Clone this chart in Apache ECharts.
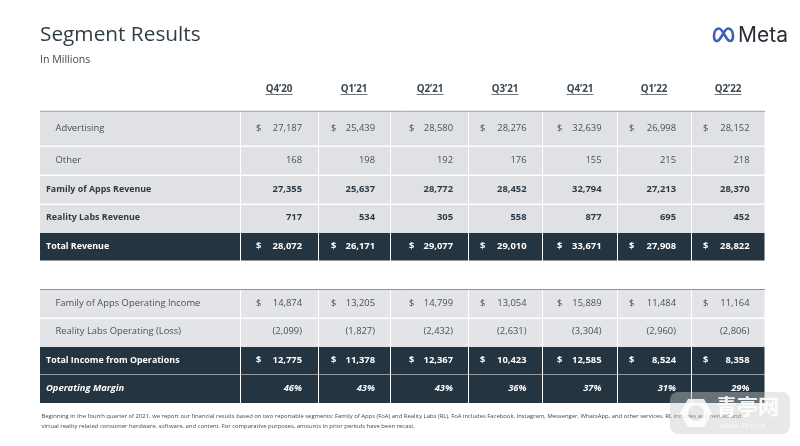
<!DOCTYPE html>
<html>
<head>
<meta charset="utf-8">
<style>
  html, body { margin: 0; padding: 0; background: #fff; }
  #chart { width: 800px; height: 446px; }
</style>
<script src="https://cdn.jsdelivr.net/npm/echarts@6/dist/echarts.min.js"></script>
</head>
<body>
<div id="chart"></div>
<script>
// table content
const quarters = ['Q4’20', 'Q1’21', 'Q2’21', 'Q3’21', 'Q4’21', 'Q1’22', 'Q2’22'];
const advertising = [27187, 25439, 28580, 28276, 32639, 26998, 28152];
const other = [168, 198, 192, 176, 155, 215, 218];
const foaRevenue = [27355, 25637, 28772, 28452, 32794, 27213, 28370];
const rlRevenue = [717, 534, 305, 558, 877, 695, 452];
const totalRevenue = [28072, 26171, 29077, 29010, 33671, 27908, 28822];
const foaIncome = [14874, 13205, 14799, 13054, 15889, 11484, 11164];
const rlLoss = [-2099, -1827, -2432, -2631, -3304, -2960, -2806];
const totalIncome = [12775, 11378, 12367, 10423, 12585, 8524, 8358];
const opMargin = [46, 43, 43, 36, 37, 31, 29];

const rowLabels = [
  'Advertising', 'Other', 'Family of Apps Revenue', 'Reality Labs Revenue', 'Total Revenue',
  'Family of Apps Operating Income', 'Reality Labs Operating (Loss)',
  'Total Income from Operations', 'Operating Margin'
];
const rowValues = [advertising, other, foaRevenue, rlRevenue, totalRevenue, foaIncome, rlLoss, totalIncome, opMargin];

// layout, in page pixels
const colEdges = [40, 240.5, 318.5, 390.5, 468.5, 542.5, 617.5, 691.5, 765];
const numRight = [302, 375, 453, 526.5, 601.5, 676, 749.5];
const dollarLeft = [256, 331, 409, 480, 557, 629, 703];
const headerX = [279, 354, 430, 505, 580, 654, 728];
const rowTop = [112, 147, 176, 205, 233, 290, 319, 347, 375];
const rowBottom = [145.5, 174.5, 203.5, 233, 260.5, 317.5, 347, 374.5, 403];
const textY = [128.5, 160.5, 189, 217.5, 246, 303, 331.5, 360, 388.5];

// 0 light row, 1 bold light row, 2 dark row, 3 dark italic row
const rowKinds = [0, 0, 1, 1, 2, 0, 0, 2, 3];
const rowFills = ['#dfe1e5', '#dfe1e5', '#dfe1e5', '#dfe1e5', '#243441', '#e3e4e7', '#e3e4e7', '#243441', '#243441'];
const hasDollar = [true, false, false, false, true, true, false, true, false];

const FONT = '"Open Sans", sans-serif';

function fmt(row, v) {
  if (row === 8) return v + '%';
  const s = Math.abs(v).toLocaleString('en-US');
  return v < 0 ? '(' + s + ')' : s;
}

function cellFont(kind, size) {
  if (kind === 3) return 'italic bold ' + size + 'px ' + FONT;
  if (kind === 0) return size + 'px ' + FONT;
  return 'bold ' + size + 'px ' + FONT;
}

// one item per cell: [row, column], column 0 is the label column
const cells = [];
rowLabels.forEach((_, r) => {
  for (let c = 0; c <= quarters.length; c++) cells.push([r, c]);
});

function cellText(text, x, y, color, font, align) {
  return {
    type: 'text',
    style: { text: text, x: x, y: y, fill: color, font: font, textAlign: align, textVerticalAlign: 'middle' }
  };
}

function renderCell(params, api) {
  const r = api.value(0);
  const c = api.value(1);
  const kind = rowKinds[r];
  const color = kind >= 2 ? '#ffffff' : (kind === 1 ? '#2d3b47' : '#46525c');
  const font = cellFont(kind, 9.4);
  // bold labels in the first column run a bit narrower than the numbers
  const labelFont = (kind === 1 || kind === 2) ? cellFont(kind, 8.9) : font;
  const tl = api.coord([colEdges[c] + (c > 0 ? 0.5 : 0), rowTop[r]]);
  const br = api.coord([colEdges[c + 1] - 0.5, rowBottom[r]]);
  const cy = api.coord([0, textY[r]])[1];
  const children = [{
    type: 'rect',
    shape: { x: tl[0], y: tl[1], width: br[0] - tl[0], height: br[1] - tl[1] },
    style: { fill: rowFills[r] }
  }];
  if (c === 0) {
    children.push(cellText(rowLabels[r], api.coord([kind === 0 ? 55.5 : 46, 0])[0], cy, color, labelFont, 'left'));
  } else {
    children.push(cellText(fmt(r, rowValues[r][c - 1]), api.coord([numRight[c - 1], 0])[0], cy, color, font, 'right'));
    if (hasDollar[r]) {
      children.push(cellText('$', api.coord([dollarLeft[c - 1], 0])[0], cy, color, font, 'left'));
    }
  }
  return { type: 'group', children: children };
}

function renderHeader(params, api) {
  const p = api.coord([headerX[api.value(0)], 89]);
  return {
    type: 'group',
    children: [
      cellText(quarters[api.value(0)], p[0], p[1], '#3a4853', 'bold 9.8px ' + FONT, 'center'),
      {
        type: 'line',
        shape: { x1: p[0] - 13.5, y1: p[1] + 5.5, x2: p[0] + 13.5, y2: p[1] + 5.5 },
        style: { stroke: '#4a5660', lineWidth: 0.8 }
      }
    ]
  };
}

// logo loop and watermark hexagon need real paths, graphic component has no path type
function renderDecor() {
  return {
    type: 'group',
    children: [
      {
        type: 'path',
        shape: {
          pathData: 'M0 7.5C0 2.5 2.5 0 5 0C9 0 12 12.5 16 12.5C18 12.5 19 10.5 19 7.5C19 2.5 16.5 0 14 0C10 0 7 12.5 3 12.5C1 12.5 0 10.5 0 7.5Z',
          x: 714, y: 28.5, width: 19, height: 12.5, layout: 'cover'
        },
        style: { fill: 'none', stroke: '#3f5fb8', lineWidth: 2.6 }
      },
      {
        type: 'rect',
        shape: { x: 670, y: 392, width: 120, height: 42, r: 8 },
        style: { fill: 'rgba(200,200,200,0.42)' }
      },
      {
        type: 'path',
        shape: {
          pathData: 'M0 14L8 0L24 0L32 14L24 28L8 28Z M8 14A8 8 0 1 0 24 14A8 8 0 1 0 8 14Z',
          x: 680, y: 399, width: 32, height: 28, layout: 'cover'
        },
        style: { fill: 'rgba(255,255,255,0.85)' }
      }
    ]
  };
}

const chart = echarts.init(document.getElementById('chart'), null, { renderer: 'canvas' });

chart.setOption({
  backgroundColor: '#ffffff',
  animation: false,
  title: [
    {
      text: 'Segment Results',
      left: 40,
      top: 25,
      padding: 0,
      textStyle: { fontFamily: FONT, fontWeight: 400, fontSize: 20.8, color: '#2f3d47' }
    },
    {
      text: 'In Millions',
      left: 40,
      top: 54,
      padding: 0,
      textStyle: { fontFamily: FONT, fontWeight: 400, fontSize: 10.6, color: '#3f4a53' }
    }
  ],
  grid: { left: 0, right: 0, top: 0, bottom: 0 },
  xAxis: { type: 'value', min: 0, max: 800, show: false },
  yAxis: { type: 'value', min: 0, max: 446, inverse: true, show: false },
  series: [
    {
      type: 'custom',
      coordinateSystem: 'cartesian2d',
      clip: false,
      silent: true,
      data: cells,
      renderItem: renderCell
    },
    {
      type: 'custom',
      coordinateSystem: 'cartesian2d',
      clip: false,
      silent: true,
      data: quarters.map((_, i) => [i, i]),
      renderItem: renderHeader
    },
    {
      type: 'custom',
      coordinateSystem: 'cartesian2d',
      clip: false,
      silent: true,
      z: 5,
      data: [[0, 0]],
      renderItem: renderDecor
    }
  ],
  graphic: [
    // table top rules
    { type: 'line', z: 10, shape: { x1: 40, y1: 111.3, x2: 765, y2: 111.3 }, style: { stroke: '#9a9ea2', lineWidth: 1 } },
    { type: 'line', z: 10, shape: { x1: 40, y1: 289.5, x2: 765, y2: 289.5 }, style: { stroke: '#8f9397', lineWidth: 1 } },
    // footnote
    {
      type: 'text',
      style: {
        text: 'Beginning in the fourth quarter of 2021, we report our financial results based on two reportable segments: Family of Apps (FoA) and Reality Labs (RL). FoA includes Facebook, Instagram, Messenger, WhatsApp, and other services. RL includes augmented and',
        x: 41.5, y: 416.5, fill: '#3c4852', font: '5.9px ' + FONT, textVerticalAlign: 'middle'
      }
    },
    {
      type: 'text',
      style: {
        text: 'virtual reality related consumer hardware, software, and content. For comparative purposes, amounts in prior periods have been recast.',
        x: 41.5, y: 426, fill: '#3c4852', font: '5.9px ' + FONT, textVerticalAlign: 'middle'
      }
    },
    // logo word
    {
      type: 'text',
      style: { text: 'Meta', x: 738, y: 35.5, fill: '#2a2f38', font: '21px Inter, sans-serif', textVerticalAlign: 'middle' }
    },
    // watermark
    {
      type: 'text',
      z: 10,
      style: { text: '青亭网', x: 716, y: 406, fill: 'rgba(255,255,255,0.9)', font: 'bold 21px "Noto Sans CJK SC", sans-serif', textVerticalAlign: 'middle' }
    },
    {
      type: 'text',
      z: 10,
      style: { text: 'www.7tin.cn', x: 720, y: 426, fill: 'rgba(255,255,255,0.75)', font: '8px ' + FONT, textVerticalAlign: 'middle' }
    }
  ]
});
</script>
</body>
</html>
